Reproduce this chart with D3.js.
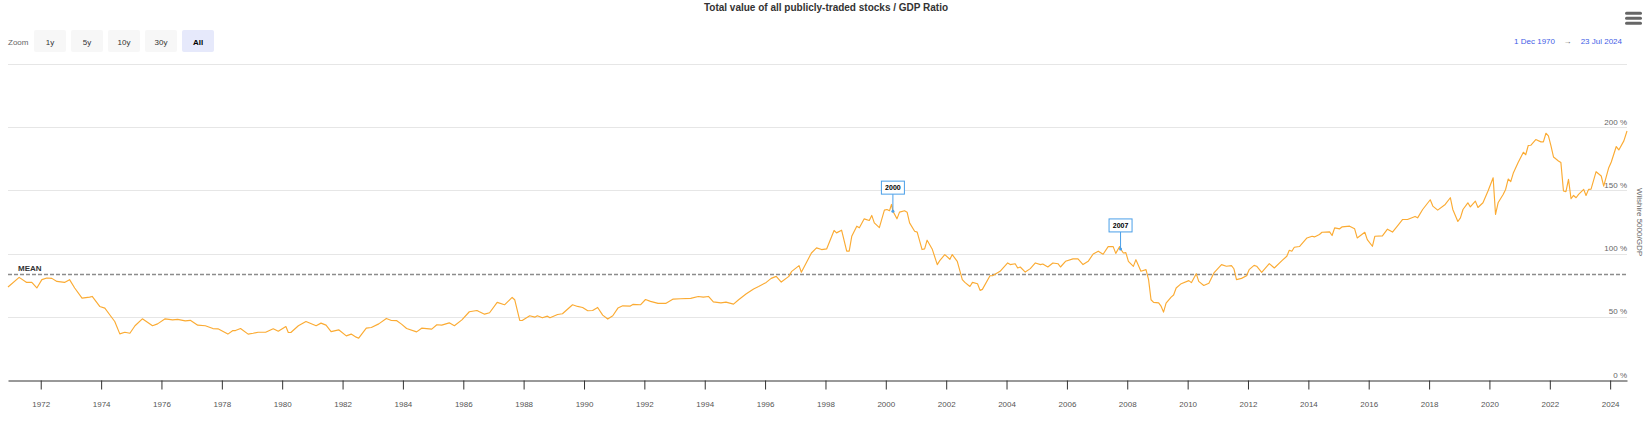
<!DOCTYPE html>
<html lang="en">
<head>
<meta charset="UTF-8">
<title>Total value of all publicly-traded stocks / GDP Ratio</title>
<script src="https://cdn.jsdelivr.net/npm/d3@7/dist/d3.min.js"></script>
<style>
  html, body { margin: 0; padding: 0; background: #fff; }
  svg { display: block; font-family: "Liberation Sans", Arial, Helvetica, sans-serif; }
</style>
</head>
<body>
<svg id="chart" width="1652" height="422"></svg>
<script>
// ---- data (month strings sit on the 15th) ----
const dates = [
  "1970-12-01", "1971-04", "1971-07", "1971-09", "1971-11",
  "1972-01", "1972-03", "1972-05", "1972-07", "1972-10", "1972-12",
  "1973-02", "1973-05", "1973-08", "1973-09", "1973-12",
  "1974-02", "1974-04", "1974-06", "1974-08", "1974-10", "1974-12",
  "1975-02", "1975-05", "1975-09", "1975-11",
  "1976-02", "1976-05", "1976-07", "1976-10", "1976-12",
  "1977-03", "1977-06", "1977-09", "1977-11",
  "1978-03", "1978-05", "1978-06", "1978-08", "1978-11",
  "1979-01", "1979-03", "1979-06", "1979-09", "1979-11",
  "1980-02", "1980-03", "1980-04", "1980-07", "1980-10",
  "1981-02", "1981-04", "1981-06", "1981-08", "1981-11",
  "1982-02", "1982-04", "1982-06", "1982-07", "1982-10", "1982-12",
  "1983-03", "1983-06", "1983-08", "1983-10", "1983-12",
  "1984-02", "1984-06", "1984-08", "1984-12",
  "1985-02", "1985-04", "1985-07", "1985-09", "1985-12",
  "1986-03", "1986-06", "1986-07", "1986-09", "1986-11",
  "1987-02", "1987-05", "1987-08", "1987-09", "1987-11", "1987-12",
  "1988-03", "1988-05", "1988-06", "1988-08", "1988-10", "1988-11",
  "1989-02", "1989-04", "1989-08", "1989-10", "1989-12",
  "1990-02", "1990-04", "1990-06", "1990-08", "1990-10", "1990-12",
  "1991-02", "1991-04", "1991-07", "1991-08", "1991-11",
  "1992-01", "1992-03", "1992-06", "1992-09", "1992-12",
  "1993-03", "1993-07", "1993-10", "1993-12",
  "1994-02", "1994-04", "1994-07", "1994-09", "1994-12",
  "1995-02", "1995-05", "1995-08", "1995-10",
  "1996-01", "1996-03", "1996-05", "1996-07", "1996-10", "1996-11",
  "1997-02", "1997-03", "1997-07", "1997-09", "1997-11",
  "1998-01", "1998-04", "1998-05", "1998-07", "1998-09", "1998-10", "1998-11",
  "1999-01", "1999-02", "1999-04", "1999-06", "1999-07", "1999-08", "1999-10", "1999-12",
  "2000-01", "2000-02", "2000-03-10", "2000-03-27", "2000-05", "2000-06", "2000-08", "2000-09", "2000-10", "2000-12",
  "2001-01", "2001-03", "2001-04", "2001-05", "2001-07", "2001-09", "2001-10", "2001-12",
  "2002-02", "2002-03", "2002-05", "2002-07", "2002-08", "2002-10", "2002-11",
  "2003-01", "2003-02", "2003-03", "2003-06", "2003-07", "2003-10",
  "2004-01", "2004-02", "2004-04", "2004-05", "2004-06", "2004-08", "2004-10", "2004-12",
  "2005-02", "2005-03", "2005-05", "2005-07", "2005-09", "2005-10", "2005-12",
  "2006-03", "2006-05", "2006-07", "2006-09", "2006-11",
  "2007-01", "2007-03", "2007-05", "2007-07", "2007-08", "2007-10-01", "2007-10-12", "2007-11", "2007-12",
  "2008-01", "2008-03", "2008-04", "2008-06", "2008-08", "2008-09", "2008-10", "2008-11",
  "2009-01", "2009-02", "2009-03", "2009-04", "2009-06", "2009-07", "2009-08", "2009-10",
  "2010-01", "2010-02", "2010-04", "2010-05", "2010-07", "2010-09", "2010-11",
  "2011-02", "2011-04", "2011-06", "2011-07", "2011-08", "2011-10", "2011-12",
  "2012-01", "2012-03", "2012-04", "2012-06", "2012-09", "2012-11",
  "2013-02", "2013-04", "2013-05", "2013-06", "2013-07", "2013-09", "2013-12",
  "2014-02", "2014-03", "2014-05", "2014-06", "2014-09", "2014-10", "2014-11",
  "2015-01", "2015-02", "2015-05", "2015-07", "2015-08", "2015-11", "2015-12",
  "2016-02", "2016-03", "2016-06", "2016-08", "2016-10", "2016-12",
  "2017-02", "2017-04", "2017-07", "2017-08", "2017-10",
  "2018-01", "2018-02", "2018-04", "2018-07", "2018-09", "2018-10", "2018-12",
  "2019-01", "2019-02", "2019-04", "2019-05", "2019-07", "2019-08", "2019-10", "2019-12",
  "2020-02", "2020-03", "2020-04", "2020-06", "2020-07", "2020-08", "2020-09", "2020-10", "2020-12",
  "2021-02", "2021-03", "2021-04", "2021-05", "2021-07", "2021-09", "2021-10", "2021-11", "2021-12",
  "2022-01", "2022-02", "2022-04", "2022-05", "2022-06", "2022-07", "2022-08", "2022-09", "2022-10", "2022-11", "2022-12",
  "2023-02", "2023-03", "2023-04", "2023-05", "2023-07", "2023-09", "2023-10", "2023-12",
  "2024-01", "2024-03", "2024-04", "2024-06", "2024-07-23"
];

const ratio = [
  73.6, 81.2, 77.2, 77.2, 72.8,
  79.4, 80.7, 80.4, 78.0, 77.2, 79.4,
  72.8, 64.8, 65.6, 66.1, 58.2,
  56.9, 51.6, 46.3, 36.5, 37.8, 37.0,
  42.9, 48.4, 42.9, 44.4,
  48.4, 47.6, 48.0, 46.8, 47.2,
  43.4, 42.9, 40.7, 40.5,
  36.3, 39.1, 39.1, 40.7, 36.3,
  37.0, 37.8, 37.8, 40.5, 38.6,
  42.3, 37.6, 37.6, 42.9, 46.3,
  42.9, 45.0, 43.4, 38.3, 39.7,
  34.9, 36.3, 33.9, 33.1, 41.0, 41.5,
  44.4, 48.7, 47.1, 47.0, 44.2,
  40.7, 38.1, 41.0, 40.2,
  43.7, 43.4, 45.2, 42.9, 47.6,
  54.0, 55.0, 54.0, 52.1, 53.2,
  61.4, 59.5, 65.3, 63.5, 47.1, 47.1,
  50.8, 49.7, 50.8, 49.2, 50.5, 49.2,
  51.8, 52.4, 59.5, 58.2, 57.4,
  54.8, 55.0, 57.4, 51.3, 48.2, 50.8,
  56.9, 58.7, 58.5, 59.8, 59.5,
  63.7, 62.2, 60.6, 60.6, 64.0,
  64.3, 64.6, 66.1, 65.6,
  66.1, 61.8, 61.0, 61.6, 60.0,
  63.5, 68.0, 72.0, 74.0,
  77.2, 80.4, 82.0, 77.5, 82.0, 85.7,
  90.5, 85.2, 100.5, 104.5, 103.2,
  103.7, 118.3, 116.4, 118.5, 101.9, 101.9, 113.7,
  121.7, 120.4, 127.5, 126.2, 130.2, 124.3, 120.6, 134.4,
  134.9, 133.9, 138.9, 133.6, 127.5, 132.8, 133.9, 132.8, 124.3, 117.7,
  117.0, 103.2, 103.7, 110.6, 103.7, 91.3, 94.4, 99.2,
  95.5, 99.2, 93.9, 79.4, 77.2, 74.0, 77.2,
  76.2, 70.9, 71.7, 82.5, 82.5, 86.0,
  92.6, 91.3, 92.0, 88.6, 89.4, 85.4, 88.1, 92.6,
  91.3, 91.8, 89.4, 92.6, 92.0, 89.4, 93.9,
  95.8, 95.8, 91.3, 93.9, 99.7,
  101.9, 99.5, 105.5, 105.5, 100.2, 105.6, 103.7, 100.5, 100.8,
  93.9, 89.9, 95.2, 86.0, 87.3, 79.4, 63.5, 61.4,
  61.0, 58.2, 53.7, 60.8, 65.6, 67.2, 72.8, 76.2,
  78.6, 77.0, 84.1, 78.0, 74.8, 76.5, 84.7,
  91.3, 90.0, 90.5, 88.0, 79.4, 80.4, 82.5,
  87.3, 90.7, 90.0, 85.2, 92.1, 88.6,
  94.4, 97.9, 102.6, 101.9, 105.0, 105.6, 112.4,
  113.7, 113.2, 115.1, 116.9, 117.2, 114.3, 120.4,
  119.6, 121.2, 121.7, 119.6, 112.4, 116.9, 111.1,
  105.8, 113.7, 114.0, 119.3, 117.0, 122.0,
  127.0, 127.0, 129.4, 128.3, 134.9,
  142.6, 137.6, 134.4, 138.9, 144.2, 134.9, 125.4,
  128.3, 134.9, 140.2, 137.0, 141.5, 136.5, 140.2, 149.5,
  160.0, 131.0, 140.2, 146.8, 150.8, 159.0, 157.0, 163.5, 172.2,
  180.2, 178.2, 185.5, 185.7, 190.2, 188.4, 188.4, 195.2, 193.1,
  185.2, 176.4, 173.3, 172.0, 149.5, 149.0, 158.7, 143.4, 146.0, 144.2, 146.8,
  150.8, 146.0, 150.8, 151.0, 164.8, 161.4, 153.4, 168.0,
  172.5, 184.7, 182.0, 189.2, 197.0
];

const flagDates = ["2000-03-27", "2007-10-12"];
const flagLabels = ["2000", "2007"];
const meanValue = 83.5;
const yTicks = [0, 50, 100, 150, 200, 250];
const yLabelTicks = [0, 50, 100, 150, 200];
const zoomButtons = ["1y", "5y", "10y", "30y", "All"];
const rangeStart = "1 Dec 1970";
const rangeEnd = "23 Jul 2024";

// ---- helpers ----
const parseDay = d3.timeParse("%Y-%m-%d");
function parseDate(s) {
  if (s.length === 10) return parseDay(s);
  return parseDay(s + "-15");
}

const series = dates.map((d, i) => ({ date: parseDate(d), value: ratio[i] }));
const valueAt = new Map(series.map(d => [+d.date, d.value]));

const W = 1652, H = 422;
const plot = { left: 8, right: 1627, top: 64, bottom: 380 };
const lineColor = "#fbab33";
const flagColor = "#4a9fe8";
const rangeColor = "#4360e6";

const svg = d3.select("#chart");

const x = d3.scaleTime()
  .domain([parseDay("1970-12-01"), parseDay("2024-07-23")])
  .range([plot.left, plot.right]);

const y = d3.scaleLinear()
  .domain([0, 250])
  .range([plot.bottom, plot.top]);

const crisp = v => Math.round(v) + 0.5;

// title
svg.append("text")
  .attr("x", W / 2)
  .attr("y", 10.5)
  .attr("text-anchor", "middle")
  .attr("font-size", 10)
  .attr("font-weight", "bold")
  .attr("fill", "#333")
  .text("Total value of all publicly-traded stocks / GDP Ratio");

// hamburger menu
svg.append("g")
  .selectAll("line")
  .data([13.3, 18.3, 23.3])
  .join("line")
    .attr("x1", 1626.5).attr("x2", 1640.5)
    .attr("y1", d => d).attr("y2", d => d)
    .attr("stroke", "#666")
    .attr("stroke-width", 3)
    .attr("stroke-linecap", "round");

// range selector
svg.append("text")
  .attr("x", 8).attr("y", 44.5)
  .attr("font-size", 8)
  .attr("fill", "#666")
  .text("Zoom");

const btn = svg.append("g")
  .selectAll("g")
  .data(zoomButtons)
  .join("g")
    .attr("transform", (d, i) => `translate(${34 + i * 37},30)`);

btn.append("rect")
  .attr("width", 32).attr("height", 22).attr("rx", 2)
  .attr("fill", d => d === "All" ? "#e6e9fb" : "#f7f7f7");

btn.append("text")
  .attr("x", 16).attr("y", 14.5)
  .attr("text-anchor", "middle")
  .attr("font-size", 8)
  .attr("font-weight", d => d === "All" ? "bold" : "normal")
  .attr("fill", d => d === "All" ? "#000" : "#333")
  .text(d => d);

svg.append("text")
  .attr("x", 1555).attr("y", 44)
  .attr("text-anchor", "end")
  .attr("font-size", 8)
  .attr("fill", rangeColor)
  .text(rangeStart);
svg.append("text")
  .attr("x", 1567.5).attr("y", 44)
  .attr("text-anchor", "middle")
  .attr("font-size", 8)
  .attr("fill", "#666")
  .text("\u2192");
svg.append("text")
  .attr("x", 1622).attr("y", 44)
  .attr("text-anchor", "end")
  .attr("font-size", 8)
  .attr("fill", rangeColor)
  .text(rangeEnd);

// grid
svg.append("g")
  .selectAll("line")
  .data(yTicks.filter(t => t > 0))
  .join("line")
    .attr("x1", plot.left).attr("x2", plot.right)
    .attr("y1", d => crisp(y(d))).attr("y2", d => crisp(y(d)))
    .attr("stroke", "#e6e6e6")
    .attr("stroke-width", 1);

// y labels (right side, above the grid lines)
svg.append("g")
  .selectAll("text")
  .data(yLabelTicks)
  .join("text")
    .attr("x", plot.right)
    .attr("y", d => y(d) - 2.5)
    .attr("text-anchor", "end")
    .attr("font-size", 8)
    .attr("fill", "#666")
    .text(d => d + " %");

svg.append("text")
  .attr("transform", `translate(1636.5,${(plot.top + plot.bottom) / 2}) rotate(90)`)
  .attr("text-anchor", "middle")
  .attr("font-size", 8)
  .attr("fill", "#666")
  .text("Wilshire 5000/GDP");

// x axis
const xAxis = d3.axisBottom(x)
  .ticks(d3.timeYear.every(2))
  .tickFormat(d3.timeFormat("%Y"))
  .tickSizeInner(9)
  .tickSizeOuter(0)
  .tickPadding(12);

const gx = svg.append("g")
  .attr("transform", `translate(0,${crisp(plot.bottom)})`)
  .call(xAxis);
gx.select(".domain").attr("stroke", "#333");
gx.selectAll(".tick line").attr("stroke", "#333");
gx.selectAll(".tick text")
  .attr("font-size", 8)
  .attr("font-family", null)
  .attr("fill", "#555");

// mean line
svg.append("line")
  .attr("x1", plot.left).attr("x2", plot.right)
  .attr("y1", y(meanValue)).attr("y2", y(meanValue))
  .attr("stroke", "#8c8c8c")
  .attr("stroke-width", 1.5)
  .attr("stroke-dasharray", "4,2");

svg.append("text")
  .attr("x", 18).attr("y", y(meanValue) - 3.5)
  .attr("font-size", 8)
  .attr("font-weight", "bold")
  .attr("fill", "#333")
  .text("MEAN");

// series line
const line = d3.line()
  .x(d => x(d.date))
  .y(d => y(d.value));

svg.append("path")
  .datum(series)
  .attr("fill", "none")
  .attr("stroke", lineColor)
  .attr("stroke-width", 1.15)
  .attr("stroke-linejoin", "round")
  .attr("d", line);

// flags
const flags = flagDates.map((d, i) => {
  const dt = parseDate(d);
  return { date: dt, label: flagLabels[i], value: valueAt.get(+dt) };
});

const fg = svg.append("g")
  .selectAll("g")
  .data(flags)
  .join("g")
    .attr("transform", d => `translate(${x(d.date)},${y(d.value)})`);

fg.append("line")
  .attr("x1", 0).attr("x2", 0)
  .attr("y1", 0).attr("y2", -17)
  .attr("stroke", flagColor)
  .attr("stroke-width", 1);

fg.append("circle")
  .attr("r", 1.5)
  .attr("fill", flagColor);

fg.append("rect")
  .attr("x", -11.5).attr("y", -30)
  .attr("width", 23).attr("height", 13)
  .attr("fill", "#fff")
  .attr("stroke", flagColor)
  .attr("stroke-width", 1);

fg.append("text")
  .attr("x", 0).attr("y", -21)
  .attr("text-anchor", "middle")
  .attr("font-size", 7)
  .attr("font-weight", "bold")
  .attr("fill", "#000")
  .text(d => d.label);
</script>
</body>
</html>
